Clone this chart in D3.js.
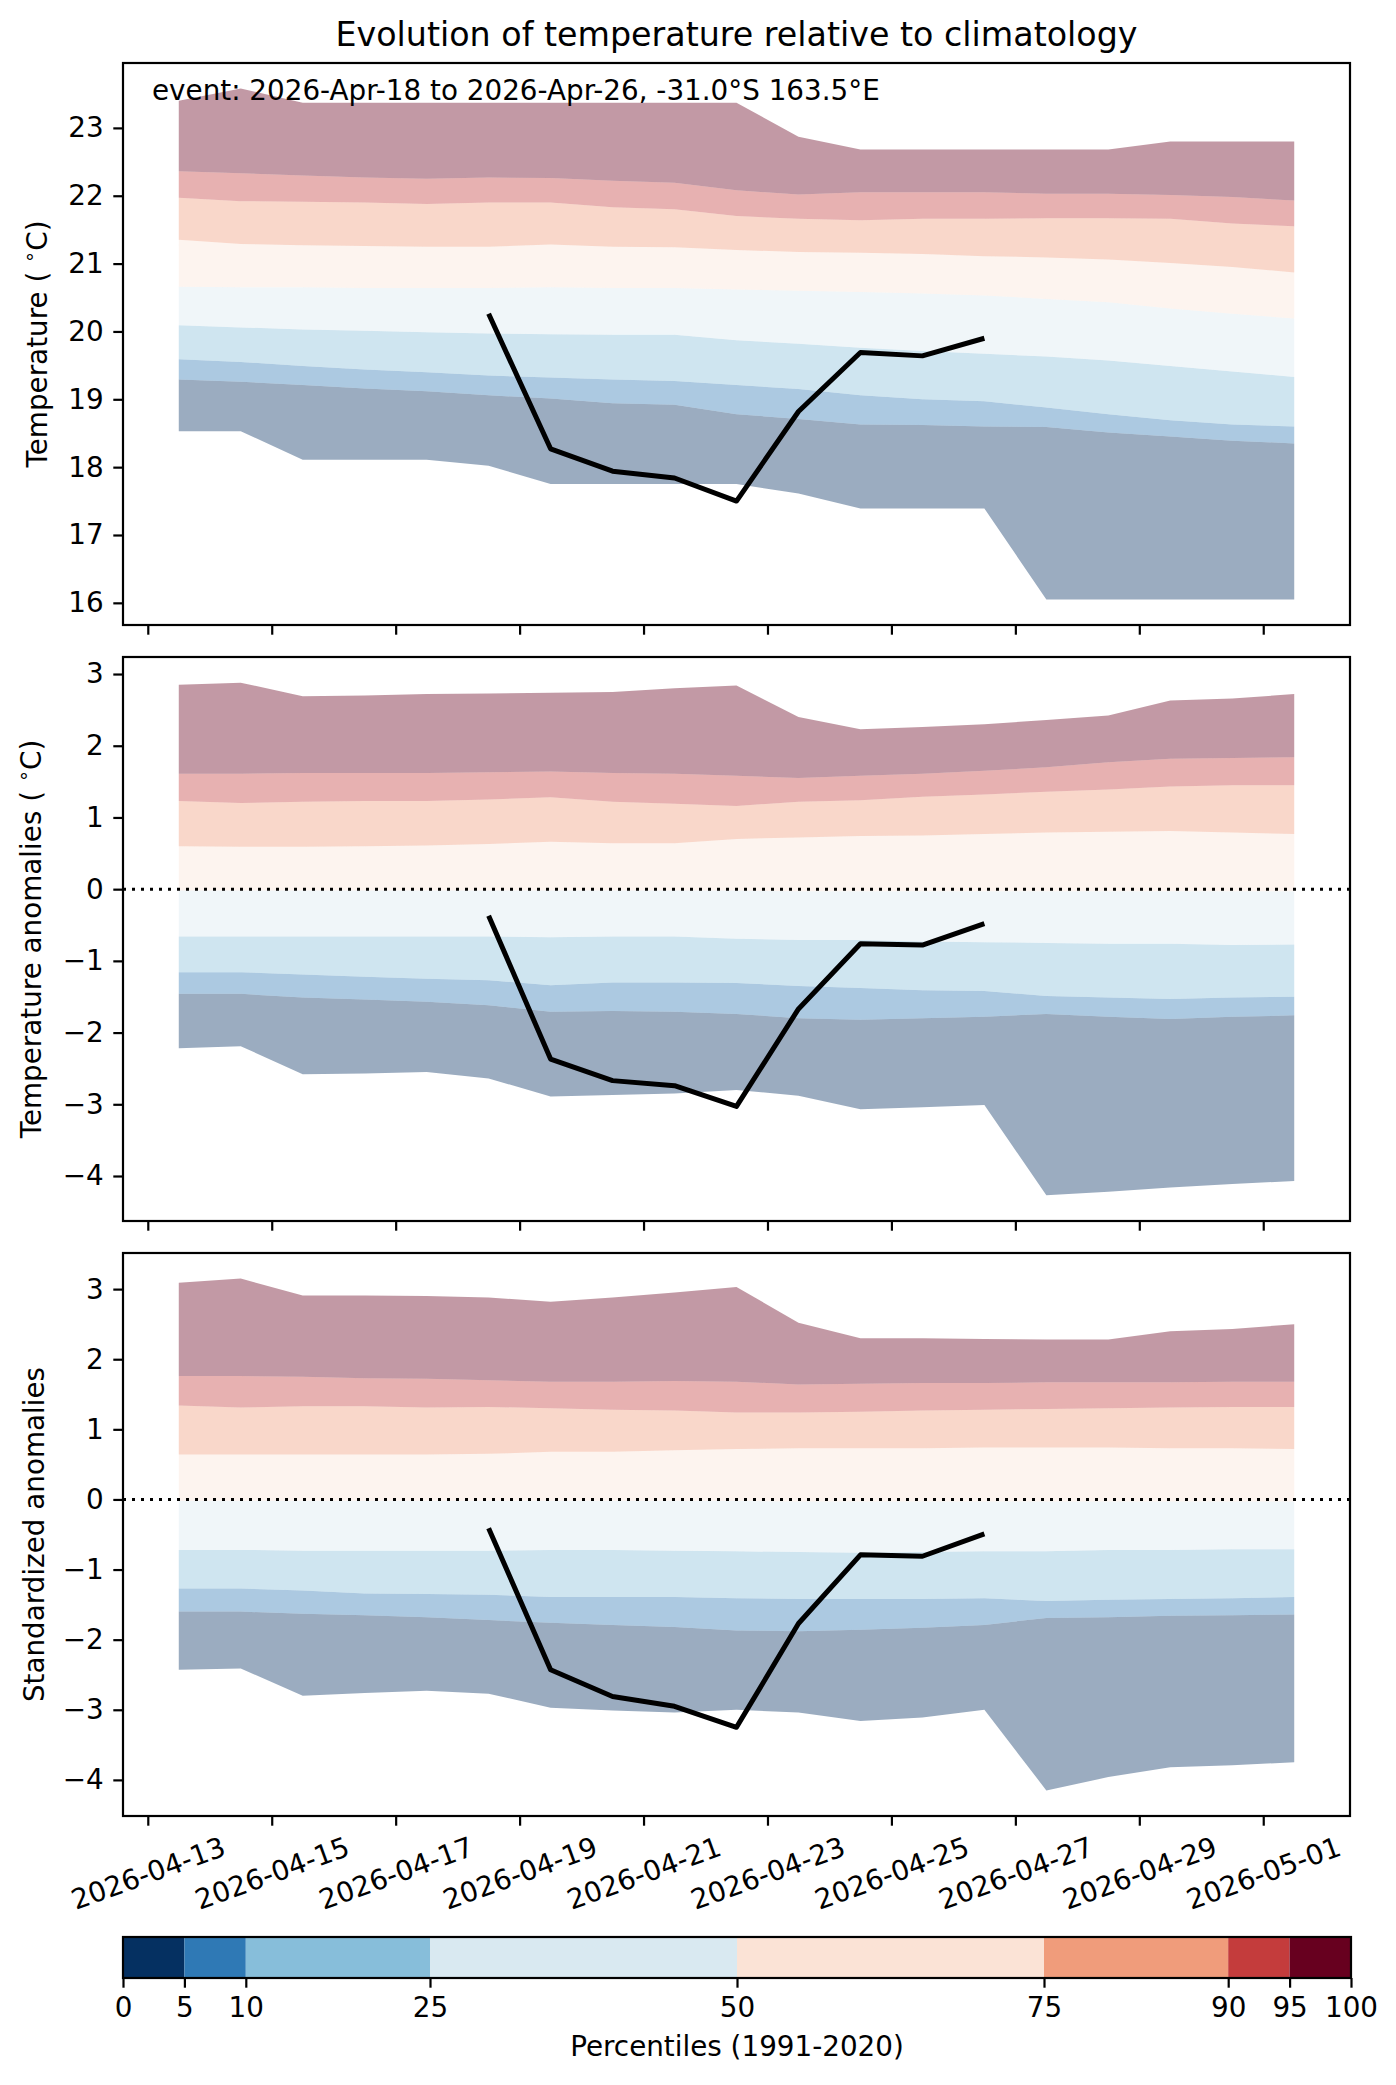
<!DOCTYPE html>
<html>
<head>
<meta charset="utf-8">
<script src="https://cdn.jsdelivr.net/npm/d3@7"></script>
<style>
  body { margin: 0; background: #fff; }
  svg text { font-family: "DejaVu Sans", sans-serif; fill: #000; }
</style>
</head>
<body>
<div id="chart"></div>
<script>
// daily climatology percentiles (dates at noon) and the observed event
const days = ["2026-04-13T12:00Z","2026-04-14T12:00Z","2026-04-15T12:00Z","2026-04-16T12:00Z","2026-04-17T12:00Z",
  "2026-04-18T12:00Z","2026-04-19T12:00Z","2026-04-20T12:00Z","2026-04-21T12:00Z","2026-04-22T12:00Z",
  "2026-04-23T12:00Z","2026-04-24T12:00Z","2026-04-25T12:00Z","2026-04-26T12:00Z","2026-04-27T12:00Z",
  "2026-04-28T12:00Z","2026-04-29T12:00Z","2026-04-30T12:00Z","2026-05-01T12:00Z"];
const obsDays = ["2026-04-18T12:00Z","2026-04-19T12:00Z","2026-04-20T12:00Z","2026-04-21T12:00Z","2026-04-22T12:00Z",
  "2026-04-23T12:00Z","2026-04-24T12:00Z","2026-04-25T12:00Z","2026-04-26T12:00Z"];

const percentiles = [0, 5, 10, 25, 50, 75, 90, 95, 100];
const bandColors = ["#053061","#2f79b5","#87beda","#d9e9f1","#fbe3d6","#f09c7b","#c43c3c","#67001f"];

// temperature (deg C)
const temp_p0   = [18.53,18.53,18.11,18.11,18.11,18.02,17.75,17.75,17.75,17.75,17.61,17.39,17.39,17.39,16.05,16.05,16.05,16.05,16.05];
const temp_p5   = [19.29,19.26,19.21,19.16,19.12,19.06,19.01,18.94,18.92,18.78,18.71,18.63,18.62,18.60,18.59,18.51,18.45,18.39,18.35];
const temp_p10  = [19.59,19.55,19.49,19.44,19.40,19.35,19.32,19.29,19.27,19.21,19.15,19.06,19.00,18.97,18.88,18.78,18.69,18.63,18.60];
const temp_p25  = [20.09,20.06,20.03,20.01,19.99,19.97,19.96,19.95,19.95,19.87,19.82,19.76,19.71,19.67,19.63,19.57,19.49,19.41,19.33];
const temp_p50  = [20.66,20.65,20.65,20.64,20.64,20.64,20.65,20.64,20.64,20.62,20.60,20.58,20.56,20.53,20.48,20.43,20.34,20.26,20.19];
const temp_p75  = [21.35,21.29,21.27,21.26,21.25,21.25,21.28,21.25,21.24,21.20,21.17,21.16,21.14,21.11,21.09,21.06,21.01,20.95,20.87];
const temp_p90  = [21.97,21.92,21.91,21.90,21.88,21.90,21.90,21.83,21.80,21.70,21.66,21.64,21.66,21.66,21.67,21.67,21.66,21.59,21.55];
const temp_p95  = [22.36,22.33,22.30,22.27,22.25,22.27,22.26,22.22,22.19,22.08,22.02,22.05,22.05,22.05,22.03,22.03,22.01,21.98,21.93];
const temp_p100 = [23.40,23.58,23.37,23.37,23.37,23.37,23.37,23.37,23.37,23.37,22.87,22.68,22.68,22.68,22.68,22.68,22.80,22.80,22.80];
const temp_obs  = [20.26,18.27,17.94,17.84,17.50,18.82,19.69,19.64,19.90];

// temperature anomalies (deg C)
const anom_p0   = [-2.22,-2.19,-2.58,-2.57,-2.55,-2.64,-2.89,-2.87,-2.85,-2.80,-2.88,-3.07,-3.04,-3.01,-4.27,-4.22,-4.16,-4.11,-4.07];
const anom_p5   = [-1.46,-1.46,-1.51,-1.54,-1.57,-1.62,-1.71,-1.70,-1.71,-1.74,-1.80,-1.82,-1.80,-1.78,-1.74,-1.78,-1.81,-1.78,-1.76];
const anom_p10  = [-1.16,-1.16,-1.19,-1.22,-1.25,-1.27,-1.34,-1.30,-1.30,-1.31,-1.35,-1.38,-1.41,-1.42,-1.49,-1.51,-1.53,-1.51,-1.50];
const anom_p25  = [-0.66,-0.66,-0.66,-0.66,-0.66,-0.66,-0.67,-0.66,-0.66,-0.69,-0.71,-0.71,-0.73,-0.74,-0.75,-0.76,-0.76,-0.78,-0.77];
const anom_p50  = [-0.02,-0.02,-0.02,-0.02,-0.02,-0.02,-0.02,-0.02,-0.02,-0.02,-0.03,-0.03,-0.03,-0.03,-0.03,-0.03,-0.03,-0.03,-0.03];
const anom_p75  = [0.60,0.59,0.59,0.60,0.61,0.63,0.66,0.64,0.64,0.70,0.72,0.74,0.75,0.77,0.79,0.80,0.81,0.79,0.77];
const anom_p90  = [1.23,1.20,1.22,1.23,1.23,1.25,1.28,1.22,1.19,1.16,1.22,1.24,1.29,1.32,1.36,1.39,1.43,1.45,1.45];
const anom_p95  = [1.61,1.61,1.62,1.62,1.62,1.63,1.64,1.62,1.61,1.58,1.55,1.58,1.61,1.65,1.70,1.77,1.82,1.83,1.84];
const anom_p100 = [2.85,2.88,2.69,2.70,2.72,2.73,2.74,2.75,2.80,2.84,2.40,2.23,2.26,2.30,2.36,2.42,2.63,2.66,2.72];
const anom_obs  = [-0.37,-2.37,-2.67,-2.74,-3.03,-1.67,-0.76,-0.78,-0.48];

// standardized anomalies
const std_p0   = [-2.43,-2.41,-2.80,-2.76,-2.73,-2.77,-2.97,-3.01,-3.04,-3.00,-3.04,-3.16,-3.11,-3.00,-4.15,-3.96,-3.82,-3.79,-3.75];
const std_p5   = [-1.60,-1.60,-1.63,-1.65,-1.68,-1.72,-1.76,-1.79,-1.82,-1.87,-1.88,-1.86,-1.83,-1.79,-1.69,-1.68,-1.66,-1.65,-1.64];
const std_p10  = [-1.27,-1.27,-1.30,-1.34,-1.35,-1.36,-1.39,-1.39,-1.39,-1.41,-1.42,-1.42,-1.42,-1.41,-1.45,-1.43,-1.42,-1.41,-1.39];
const std_p25  = [-0.72,-0.72,-0.73,-0.73,-0.73,-0.73,-0.72,-0.72,-0.73,-0.74,-0.75,-0.76,-0.75,-0.74,-0.74,-0.72,-0.72,-0.71,-0.71];
const std_p50  = [-0.02,-0.02,-0.02,-0.02,-0.02,-0.02,-0.02,-0.02,-0.02,-0.02,-0.03,-0.03,-0.03,-0.03,-0.03,-0.03,-0.03,-0.03,-0.03];
const std_p75  = [0.64,0.64,0.64,0.64,0.64,0.65,0.68,0.68,0.70,0.72,0.73,0.73,0.73,0.74,0.74,0.74,0.73,0.73,0.72];
const std_p90  = [1.34,1.31,1.33,1.33,1.31,1.32,1.30,1.28,1.27,1.24,1.24,1.25,1.27,1.28,1.29,1.30,1.31,1.32,1.32];
const std_p95  = [1.76,1.76,1.75,1.73,1.72,1.70,1.68,1.68,1.69,1.68,1.64,1.65,1.66,1.66,1.67,1.67,1.67,1.68,1.68];
const std_p100 = [3.09,3.15,2.91,2.91,2.90,2.88,2.82,2.88,2.95,3.03,2.52,2.30,2.30,2.29,2.28,2.28,2.40,2.43,2.50];
const std_obs  = [-0.41,-2.43,-2.81,-2.95,-3.25,-1.77,-0.79,-0.81,-0.49];

const width = 1396, height = 2085;
const fs = 27.8;        // 10pt at 200 dpi
const tickLen = 9.7, tickPad = 9.7, lw = 2.2;
const left = 123, right = 1350;

const svg = d3.select("#chart")
    .append("svg")
    .attr("width", width)
    .attr("height", height);

const dates = days.map(d => new Date(d));
const obsDates = obsDays.map(d => new Date(d));

// matplotlib-like 5% margins
const span = dates[dates.length - 1] - dates[0];
const x = d3.scaleUtc()
    .domain([new Date(+dates[0] - 0.05 * span), new Date(+dates[dates.length - 1] + 0.05 * span)])
    .range([left, right]);

const panels = [
  {top: 63, bottom: 625, levels: [temp_p0,temp_p5,temp_p10,temp_p25,temp_p50,temp_p75,temp_p90,temp_p95,temp_p100],
   obs: temp_obs, zero: false, label: "Temperature (", labelX: 47},
  {top: 657, bottom: 1221, levels: [anom_p0,anom_p5,anom_p10,anom_p25,anom_p50,anom_p75,anom_p90,anom_p95,anom_p100],
   obs: anom_obs, zero: true, label: "Temperature anomalies (", labelX: 41},
  {top: 1253, bottom: 1816, levels: [std_p0,std_p5,std_p10,std_p25,std_p50,std_p75,std_p90,std_p95,std_p100],
   obs: std_obs, zero: true, label: "Standardized anomalies", labelX: 44}
];

svg.append("text")
    .attr("x", (left + right) / 2)
    .attr("y", 45.5)
    .attr("text-anchor", "middle")
    .attr("font-size", 33.3)
    .text("Evolution of temperature relative to climatology");

panels.forEach((p, i) => {
  const [lo, hi] = d3.extent(p.levels.flat().concat(p.obs));
  const pad = (hi - lo) * 0.05;
  const y = d3.scaleLinear().domain([lo - pad, hi + pad]).range([p.bottom, p.top]);
  const g = svg.append("g");

  // percentile bands
  for (let k = 0; k < percentiles.length - 1; k++) {
    const area = d3.area()
        .x(d => x(d))
        .y0((d, j) => y(p.levels[k][j]))
        .y1((d, j) => y(p.levels[k + 1][j]));
    g.append("path")
        .datum(dates)
        .attr("d", area)
        .attr("fill", bandColors[k])
        .attr("fill-opacity", 0.4);
  }

  if (p.zero) {
    g.append("line")
        .attr("x1", left).attr("x2", right)
        .attr("y1", y(0)).attr("y2", y(0))
        .attr("stroke", "#000")
        .attr("stroke-width", 3)
        .attr("stroke-dasharray", "3,6");
  }

  const line = d3.line().x(d => x(d)).y((d, j) => y(p.obs[j]));
  g.append("path")
      .datum(obsDates)
      .attr("d", line)
      .attr("fill", "none")
      .attr("stroke", "#000")
      .attr("stroke-width", 5)
      .attr("stroke-linejoin", "round");

  if (i === 0) {
    g.append("text")
        .attr("x", 152)
        .attr("y", 99.5)
        .attr("font-size", fs)
        .text("event: 2026-Apr-18 to 2026-Apr-26, -31.0°S 163.5°E");
  }

  // axes
  const yAxis = g.append("g")
      .attr("transform", `translate(${left},0)`)
      .call(d3.axisLeft(y).ticks(8).tickSize(tickLen).tickPadding(tickPad));
  const xAxis = g.append("g")
      .attr("transform", `translate(0,${p.bottom})`)
      .call(d3.axisBottom(x).ticks(d3.utcDay.every(2)).tickSize(tickLen).tickPadding(tickPad)
          .tickFormat(i === 2 ? d3.utcFormat("%Y-%m-%d") : ""));
  [yAxis, xAxis].forEach(a => {
    a.attr("font-size", fs).attr("font-family", "DejaVu Sans");
    a.select(".domain").remove();
    a.selectAll(".tick line").attr("stroke-width", lw);
  });

  if (i === 2) {
    const rot = 20 * Math.PI / 180;
    xAxis.selectAll(".tick text").each(function() {
      const w = this.getComputedTextLength();
      const h = fs * 0.8;
      const H = w * Math.sin(rot) + h * Math.cos(rot);
      d3.select(this)
          .attr("y", null).attr("dy", null)
          .attr("dominant-baseline", "central")
          .attr("text-anchor", "middle")
          .attr("transform", `translate(0,${tickLen + tickPad + H / 2}) rotate(-20)`);
    });
  }

  // y label
  const lab = g.append("text")
      .attr("transform", `translate(${p.labelX},${(p.top + p.bottom) / 2}) rotate(-90)`)
      .attr("text-anchor", "middle")
      .attr("font-size", fs)
      .text(p.label);
  if (i < 2) {
    lab.append("tspan").text(" ");
    lab.append("tspan").attr("font-size", fs * 0.7).attr("dy", -fs * 0.4).text("∘");
    lab.append("tspan").attr("dy", fs * 0.4).text("C)");
  }

  g.append("rect")
      .attr("x", left).attr("y", p.top)
      .attr("width", right - left).attr("height", p.bottom - p.top)
      .attr("fill", "none")
      .attr("stroke", "#000")
      .attr("stroke-width", lw);
});

// colorbar
const cbTop = 1937, cbBottom = 1978;
const cx = d3.scaleLinear().domain([0, 100]).range([left, 1351]);
const cb = svg.append("g");
cb.selectAll("rect.bin")
  .data(d3.pairs(percentiles))
  .join("rect")
    .attr("class", "bin")
    .attr("x", d => cx(d[0]))
    .attr("width", d => cx(d[1]) - cx(d[0]))
    .attr("y", cbTop)
    .attr("height", cbBottom - cbTop)
    .attr("fill", (d, k) => bandColors[k]);
cb.append("rect")
    .attr("x", cx(0)).attr("y", cbTop)
    .attr("width", cx(100) - cx(0)).attr("height", cbBottom - cbTop)
    .attr("fill", "none").attr("stroke", "#000").attr("stroke-width", lw);
const cbAxis = cb.append("g")
    .attr("transform", `translate(0,${cbBottom})`)
    .call(d3.axisBottom(cx).tickValues(percentiles).tickSize(tickLen).tickPadding(tickPad).tickFormat(d3.format("d")));
cbAxis.attr("font-size", fs).attr("font-family", "DejaVu Sans");
cbAxis.select(".domain").remove();
cbAxis.selectAll(".tick line").attr("stroke-width", lw);

cb.append("text")
    .attr("x", (cx(0) + cx(100)) / 2)
    .attr("y", 2056)
    .attr("text-anchor", "middle")
    .attr("font-size", fs)
    .text("Percentiles (1991-2020)");
</script>
</body>
</html>
